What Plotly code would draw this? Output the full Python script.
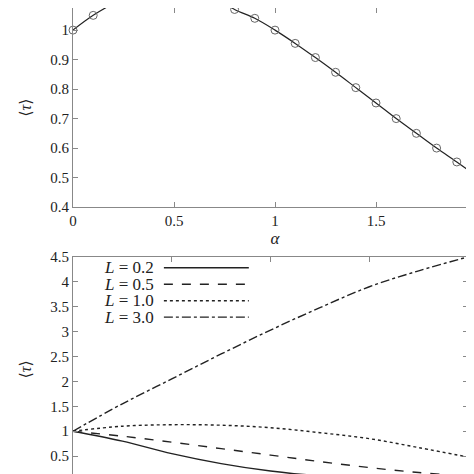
"""Two stacked panels: mean tau vs alpha, and mean tau curves for several L."""

import plotly.graph_objects as go

# top panel: curve and markers
alpha = [0.0, 0.1, 0.2, 0.3, 0.4, 0.5, 0.6, 0.7, 0.8, 0.9, 1.0,
         1.1, 1.2, 1.3, 1.4, 1.5, 1.6, 1.7, 1.8, 1.9, 2.0]
tau_top = [1.0, 1.05, 1.09, 1.12, 1.14, 1.15, 1.14, 1.11, 1.07, 1.04, 1.0,
           0.955, 0.907, 0.857, 0.805, 0.753, 0.70, 0.65, 0.60, 0.553, 0.505]

# bottom panel: curves for several L
x_bot = [0.0, 0.25, 0.5, 0.75, 1.0, 1.25, 1.5, 1.75, 2.0]
tau_l02 = [1.0, 0.80, 0.55, 0.35, 0.20, 0.10, 0.04, 0.01, 0.0]
tau_l05 = [1.0, 0.90, 0.78, 0.65, 0.52, 0.39, 0.27, 0.17, 0.10]
tau_l10 = [1.0, 1.10, 1.13, 1.12, 1.07, 0.97, 0.85, 0.67, 0.48]
tau_l30 = [1.0, 1.55, 2.05, 2.55, 3.03, 3.48, 3.90, 4.22, 4.50]
labels = ["0.2", "0.5", "1.0", "3.0"]
dashes = ["solid", "dash", "dot", "dashdot"]

FONT = "Liberation Serif, DejaVu Serif, serif"
fig = go.Figure()

fig.add_trace(go.Scatter(x=alpha, y=tau_top, mode="lines", line=dict(color="#222", width=1.2,
                         shape="spline"), showlegend=False, cliponaxis=True))
fig.add_trace(go.Scatter(x=alpha, y=tau_top, mode="markers", showlegend=False, cliponaxis=False,
                         marker=dict(symbol="circle-open", size=8, color="#666", line=dict(width=1))))

for ys, dash in zip([tau_l02, tau_l05, tau_l10, tau_l30], dashes):
    fig.add_trace(go.Scatter(x=x_bot, y=ys, mode="lines", xaxis="x2", yaxis="y2",
                             line=dict(color="#222", width=1.4, dash=dash, shape="spline"),
                             showlegend=False))

axis_style = dict(showgrid=False, zeroline=False, showline=True, linecolor="#888", mirror="ticks",
                  ticks="inside", ticklen=5, tickcolor="#888", automargin=False,
                  tickfont=dict(family=FONT, size=15, color="#222"))

# legend drawn as text + line samples (text on the left, sample on the right)
shapes = []
annotations = []
for i, (lab, dash) in enumerate(zip(labels, dashes)):
    yv = 4.28 - i * 0.33
    annotations.append(dict(x=0.42, y=yv, xref="x2", yref="y2", text="<i>L</i> = " + lab,
                            showarrow=False, xanchor="right",
                            font=dict(family=FONT, size=17, color="#222")))
    shapes.append(dict(type="line", xref="x2", yref="y2", x0=0.46, x1=0.89, y0=yv, y1=yv,
                       line=dict(color="#222", width=1.4, dash=dash)))

fig.update_layout(
    width=474, height=474, margin=dict(l=65, r=5, t=0, b=0, autoexpand=False),
    font=dict(family=FONT, color="#222"),
    paper_bgcolor="white", plot_bgcolor="white",
    xaxis=dict(domain=[0, 1], range=[0, 2], dtick=0.5, anchor="y", **axis_style,
               title=dict(text="<i>α</i>", font=dict(family=FONT, size=17), standoff=2)),
    yaxis=dict(domain=[0.58, 1], range=[0.4, 1.075], dtick=0.1, anchor="x", **axis_style,
               tickformat="~g",
               title=dict(text="⟨<i>τ</i>⟩", font=dict(family=FONT, size=16), standoff=14)),
    xaxis2=dict(domain=[0, 0.978], range=[0, 2], dtick=0.5, anchor="y2", showticklabels=False,
                **axis_style),
    yaxis2=dict(domain=[0, 0.475], range=[-0.02, 4.5], dtick=0.5, anchor="x2", **axis_style,
                tickformat="~g",
                title=dict(text="⟨<i>τ</i>⟩", font=dict(family=FONT, size=16), standoff=14)),
    shapes=shapes, annotations=annotations,
)

fig.write_html("out.html")
